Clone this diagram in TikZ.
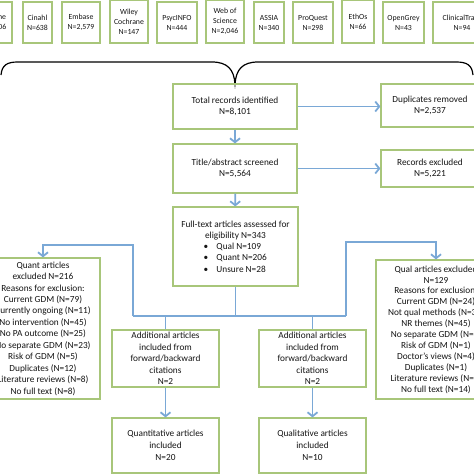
\documentclass[tikz,border=0pt]{standalone}
\usepackage{fontspec}
\setmainfont{Carlito}
\usetikzlibrary{arrows.meta}
\definecolor{boxgreen}{RGB}{168,198,122}
\definecolor{arrowblue}{RGB}{122,168,214}
\definecolor{txt}{RGB}{20,20,20}
\tikzset{
  box/.style={draw=boxgreen, line width=1.2pt, align=center, inner sep=0pt, text=txt,
    font=\fontsize{9.3}{11.4}\selectfont},
  topbox/.style={box, font=\fontsize{7.8}{10}\selectfont},
  arr/.style={draw=arrowblue, line width=1.8pt, -{Straight Barb[length=4pt,width=10pt]}},
  ln/.style={draw=arrowblue, line width=1.8pt},
}
\begin{document}
\begin{tikzpicture}[x=1pt,y=-1pt]
\useasboundingbox (0,0) rectangle (474,474);
% source boxes
\node[topbox, minimum width=38pt, minimum height=41pt] (medline) at (-7,22.5) {Medline\\N=1,406};
\node[topbox, minimum width=29pt, minimum height=41pt] (cinahl) at (37.5,22.5) {Cinahl\\N=638};
\node[topbox, minimum width=38pt, minimum height=41pt] (embase) at (81,22.5) {Embase\\N=2,579};
\node[topbox, minimum width=38pt, minimum height=43pt] (wiley) at (129,21.5) {Wiley\\Cochrane\\N=147};
\node[topbox, minimum width=40pt, minimum height=41pt] (psyc) at (177,22.5) {PsycINFO\\N=444};
\node[topbox, minimum width=38pt, minimum height=43pt] (wos) at (225,21.5) {Web of\\Science\\N=2,046};
\node[topbox, minimum width=30pt, minimum height=41pt] (assia) at (269,22.5) {ASSIA\\N=340};
\node[topbox, minimum width=40pt, minimum height=41pt] (proquest) at (313,22.5) {ProQuest\\N=298};
\node[topbox, minimum width=32pt, minimum height=43pt] (ethos) at (358,21.5) {EthOs\\N=66};
\node[topbox, minimum width=41pt, minimum height=41pt] (opengrey) at (403.5,22.5) {OpenGrey\\N=43};
\node[topbox, minimum width=58pt, minimum height=41pt] (clin) at (462,22.5) {ClinicalTrails\\N=94};
% brace
\draw[line width=1.2pt, black] (1,75) .. controls (2,65) and (7,62) .. (18,62) -- (212,62)
  .. controls (228,62) and (234,70) .. (235,84)
  .. controls (236,70) and (242,62) .. (258,62) -- (456,62)
  .. controls (467,62) and (472,65) .. (473,75);
% main boxes
\node[box, minimum width=124pt, minimum height=45pt] (total) at (235,106.5) {Total records identified\\N=8,101};
\node[box, minimum width=98pt, minimum height=43pt] (dup) at (430,105.5) {Duplicates removed\\N=2,537};
\node[box, minimum width=124pt, minimum height=49pt] (title) at (235,168.5) {Title/abstract screened\\N=5,564};
\node[box, minimum width=98pt, minimum height=37pt] (recex) at (430,168.5) {Records excluded\\N=5,221};
\node[box, minimum width=125pt, minimum height=79pt, font=\fontsize{9.3}{11.2}\selectfont] (full) at (235.5,246.5)
  {Full-text articles assessed for\\eligibility N=343\\
   \makebox[64pt][l]{\makebox[13pt][l]{\textbullet}Qual N=109}\\
   \makebox[64pt][l]{\makebox[13pt][l]{\textbullet}Quant N=206}\\
   \makebox[64pt][l]{\makebox[13pt][l]{\textbullet}Unsure N=28}};
\node[box, minimum width=114pt, minimum height=141pt, font=\fontsize{9.3}{11.45}\selectfont] (quant) at (43,328.5)
  {Quant articles\\excluded N=216\\Reasons for exclusion:\\Current GDM (N=79)\\Currently ongoing (N=11)\\No intervention (N=45)\\No PA outcome (N=25)\\No separate GDM (N=23)\\Risk of GDM (N=5)\\Duplicates (N=12)\\Literature reviews (N=8)\\No full text (N=8)};
\node[box, minimum width=120pt, minimum height=139pt, font=\fontsize{9.3}{10.9}\selectfont] (qual) at (436,329.5)
  {Qual articles excluded\\N=129\\Reasons for exclusion:\\Current GDM (N=24)\\Not qual methods (N=31)\\NR themes (N=45)\\No separate GDM (N=6)\\Risk of GDM (N=1)\\Doctor's views (N=4)\\Duplicates (N=1)\\Literature reviews (N=3)\\No full text (N=14)};
\node[box, minimum width=107pt, minimum height=57pt, font=\fontsize{9.3}{11.5}\selectfont] (addl) at (165.5,358.5)
  {Additional articles\\included from\\forward/backward\\citations\\N=2};
\node[box, minimum width=107pt, minimum height=57pt, font=\fontsize{9.3}{11.5}\selectfont] (addr) at (312.5,358.5)
  {Additional articles\\included from\\forward/backward\\citations\\N=2};
\node[box, minimum width=107pt, minimum height=55pt, font=\fontsize{9.3}{12}\selectfont] (quantinc) at (165.5,445.5)
  {Quantitative articles\\included\\N=20};
\node[box, minimum width=107pt, minimum height=55pt, font=\fontsize{9.3}{12}\selectfont] (qualinc) at (312.5,445.5)
  {Qualitative articles\\included\\N=10};
% connectors
\draw[arr] (total) -- (title);
\draw[arr] (total.east) -- (dup.west |- total.east);
\draw[arr] (title.east) -- (recex.west |- title.east);
\draw[arr] (title) -- (full);
\coordinate (j) at (235.5,316);
\coordinate (jl) at (133,316);
\coordinate (jr) at (346,316);
\coordinate (kl) at (133,245);
\coordinate (kr) at (346,242);
\draw[ln] (full.south) -- (j);
\draw[ln] (jl) -- (jr);
\draw[arr] (jl) -- (kl) -| (quant.north);
\draw[arr] (jr) -- (kr) -| (qual.north);
\draw[ln] (addl.north |- j) -- (addl.north);
\draw[ln] (addr.north |- j) -- (addr.north);
\draw[arr] (addl) -- (quantinc);
\draw[arr] (addr) -- (qualinc);
\end{tikzpicture}
\end{document}
